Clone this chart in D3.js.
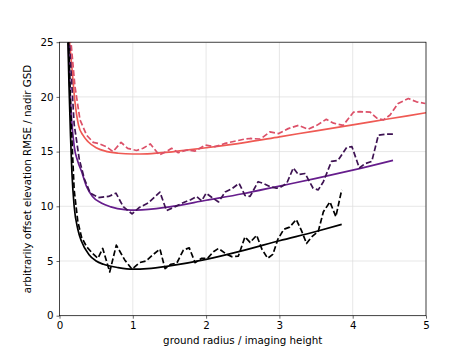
<!DOCTYPE html>
<html><head><meta charset="utf-8">
<script src="https://cdn.jsdelivr.net/npm/d3@7"></script>
<style>body{margin:0;background:#fff}svg{display:block}text{font-family:"DejaVu Sans",sans-serif}</style>
</head><body><svg id="c" width="474" height="355"></svg>
<script>
const xTicks=[0,1,2,3,4,5];
const yTicks=[0,5,10,15,20,25];
const xLabel="ground radius / imaging height";
const yLabel="arbitrarily offset elevation RMSE / nadir GSD";

const blackFitX=[0.115,0.13,0.15,0.17,0.2,0.25,0.3,0.4,0.5,0.6,0.8,1.0,1.2,1.5,2.0,2.5,3.0,3.5,3.85];
const blackFitY=[25,21,16.5,13,10,7.9,6.8,5.6,5.0,4.7,4.4,4.25,4.3,4.55,5.15,5.95,6.85,7.7,8.35];
const blackObsX=[0.12,0.16,0.2,0.25,0.3,0.37,0.45,0.525,0.59,0.685,0.775,0.89,0.99,1.09,1.18,1.28,1.37,1.44,1.52,1.60,1.69,1.77,1.85,1.94,2.02,2.10,2.17,2.26,2.35,2.44,2.53,2.60,2.69,2.76,2.84,2.91,2.98,3.06,3.14,3.23,3.30,3.37,3.44,3.53,3.60,3.69,3.77,3.85];
const blackObsY=[26,17.5,11.5,8.6,7.2,6.3,5.7,5.25,6.15,4.0,6.45,5.1,4.25,4.85,5.0,5.6,6.1,4.3,4.7,4.8,6.0,6.2,4.85,5.25,5.25,5.85,6.15,5.7,5.4,5.45,7.2,6.7,7.35,6.1,5.25,5.6,7.0,7.9,8.1,8.8,7.8,6.6,7.2,7.7,9.5,10.4,9.05,11.5];

const purpleFitX=[0.12,0.14,0.165,0.2,0.25,0.3,0.37,0.45,0.57,0.7,0.89,1.05,1.5,2.0,2.5,3.0,3.5,4.0,4.55];
const purpleFitY=[25,21,18,15.5,14.1,13.2,11.8,10.9,10.3,9.95,9.7,9.65,9.95,10.55,11.15,11.85,12.55,13.3,14.2];
const purpleObsX=[0.13,0.2,0.27,0.34,0.42,0.53,0.67,0.77,0.87,0.99,1.09,1.21,1.37,1.46,1.58,1.71,1.79,1.87,1.94,2.0,2.08,2.17,2.26,2.35,2.45,2.53,2.60,2.71,2.78,2.87,2.96,3.03,3.10,3.19,3.26,3.35,3.46,3.53,3.60,3.71,3.80,3.92,3.99,4.09,4.17,4.26,4.35,4.46,4.55];
const purpleObsY=[25.5,17.5,14.3,12.5,11.2,10.8,10.9,11.2,9.97,9.3,9.9,10.3,11.3,9.6,9.97,10.4,10.6,10.9,10.5,11.2,10.8,10.4,11.3,11.6,12.1,11.0,10.9,12.25,12.1,11.8,11.65,11.8,12.1,13.5,12.9,13.0,11.65,11.5,12.25,14.1,14.2,15.4,15.45,13.5,13.9,14.1,16.5,16.6,16.6];

const redFitX=[0.13,0.17,0.21,0.26,0.32,0.39,0.5,0.65,0.8,1.0,1.2,1.5,1.76,2.0,2.5,3.0,3.5,4.0,4.5,5.0];
const redFitY=[25.5,22.6,19.6,17.4,16.5,15.9,15.35,15.0,14.85,14.78,14.8,14.95,15.15,15.35,15.8,16.35,16.9,17.45,18.0,18.55];
const redObsX=[0.15,0.21,0.28,0.37,0.46,0.53,0.64,0.73,0.84,0.93,1.05,1.14,1.24,1.36,1.46,1.53,1.62,1.74,1.85,1.99,2.12,2.26,2.39,2.53,2.60,2.74,2.87,2.99,3.12,3.26,3.39,3.51,3.64,3.74,3.87,4.01,4.10,4.24,4.33,4.42,4.51,4.62,4.76,4.87,4.99];
const redObsY=[25.5,21,17.9,16.5,15.85,15.75,15.45,15.0,15.85,15.3,15.1,15.3,15.7,14.7,15.0,15.3,14.9,15.15,15.05,15.6,15.45,15.75,15.95,16.15,16.2,16.15,16.8,16.65,17.1,17.4,17.05,17.4,17.95,17.6,17.4,18.6,18.65,18.6,18.05,17.9,18.35,19.4,19.85,19.55,19.4];

const series=[
 {x:redFitX,y:redFitY,color:"#ef5a54",dash:null},
 {x:redObsX,y:redObsY,color:"#dc5068",dash:"5.8,2.6"},
 {x:purpleFitX,y:purpleFitY,color:"#661d8c",dash:null},
 {x:purpleObsX,y:purpleObsY,color:"#3e1353",dash:"5.8,2.6"},
 {x:blackFitX,y:blackFitY,color:"#000000",dash:null},
 {x:blackObsX,y:blackObsY,color:"#000000",dash:"5.8,2.6"}
];

const L=59.5,R=426,T=42.2,B=315.7;
const svg=d3.select("#c");
const x=d3.scaleLinear().domain([0,5]).range([L,R]);
const y=d3.scaleLinear().domain([0,25]).range([B,T]);

// grid
const g=svg.append("g");
g.selectAll(".gx").data(xTicks).enter().append("line")
 .attr("x1",d=>x(d)).attr("x2",d=>x(d)).attr("y1",T).attr("y2",B)
 .attr("stroke","#dcdcdc").attr("stroke-width",0.7);
g.selectAll(".gy").data(yTicks).enter().append("line")
 .attr("y1",d=>y(d)).attr("y2",d=>y(d)).attr("x1",L).attr("x2",R)
 .attr("stroke","#dcdcdc").attr("stroke-width",0.7);

svg.append("clipPath").attr("id","clip").append("rect")
 .attr("x",L).attr("y",T).attr("width",R-L).attr("height",B-T);

const line=d3.line().x(d=>x(d[0])).y(d=>y(d[1]));
const lineSmooth=d3.line().x(d=>x(d[0])).y(d=>y(d[1])).curve(d3.curveMonotoneX);
const lg=svg.append("g").attr("clip-path","url(#clip)");
series.forEach(s=>{
  const pts=s.x.map((v,i)=>[v,s.y[i]]);
  lg.append("path").attr("d",(s.dash?line:lineSmooth)(pts))
   .attr("fill","none").attr("stroke",s.color).attr("stroke-width",1.7)
   .attr("stroke-dasharray",s.dash).attr("stroke-linejoin","round");
});

// axes
const xa=svg.append("g").attr("transform",`translate(0,${B})`)
 .call(d3.axisBottom(x).tickValues(xTicks).tickFormat(d3.format("d")).tickSizeOuter(0).tickSize(3).tickPadding(3));
const ya=svg.append("g").attr("transform",`translate(${L},0)`)
 .call(d3.axisLeft(y).tickValues(yTicks).tickFormat(d3.format("d")).tickSizeOuter(0).tickSize(3).tickPadding(3));
[xa,ya].forEach(a=>{a.select(".domain").remove();
 a.selectAll("text").attr("font-size","10.3px").attr("fill","#000").attr("font-family","DejaVu Sans");
 a.selectAll("line").attr("stroke","#000").attr("stroke-width",0.6);});

svg.append("rect").attr("x",L).attr("y",T).attr("width",R-L).attr("height",B-T)
 .attr("fill","none").attr("stroke","#000").attr("stroke-width",0.7);

svg.append("text").attr("x",(L+R)/2).attr("y",344).attr("text-anchor","middle")
 .attr("font-size","10.3px").text(xLabel);
svg.append("text").attr("transform",`translate(31,${(T+B)/2}) rotate(-90)`).attr("text-anchor","middle")
 .attr("font-size","10.3px").text(yLabel);
</script></body></html>
